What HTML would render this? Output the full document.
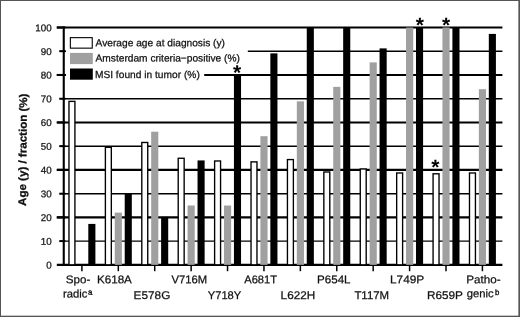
<!DOCTYPE html>
<html><head><meta charset="utf-8"><title>Figure</title>
<style>
html,body{margin:0;padding:0;background:#fff;}
body{width:520px;height:317px;overflow:hidden;position:relative;}
svg{position:absolute;left:0;top:0;display:block;}
text{font-family:"Liberation Sans",Arial,Helvetica,sans-serif;fill:#111;stroke:#111;stroke-width:0.25px;}
.tl{font-size:9.8px;text-anchor:end;}
.xl{font-size:11.2px;}
.sp{font-size:7.8px;stroke-width:0.35px;}
.lg{font-size:10.2px;}
.yt{font-size:11.1px;font-weight:bold;text-anchor:middle;stroke-width:0.3px;}
.st{font-size:21px;font-weight:bold;text-anchor:middle;stroke:none;fill:#000;}
</style></head><body>
<svg width="520" height="317" viewBox="0 0 520 317">
<rect x="0" y="0" width="520" height="317" fill="#fff"/>

<g stroke="#000" fill="none">
<line x1="56.8" y1="264.85" x2="502.4" y2="264.85" stroke-width="2.4"/>
<line x1="59.6" y1="241.12" x2="502.4" y2="241.12" stroke-width="1.45"/>
<line x1="56.8" y1="217.38" x2="502.4" y2="217.38" stroke-width="2.1"/>
<line x1="59.6" y1="193.65" x2="502.4" y2="193.65" stroke-width="1.45"/>
<line x1="56.8" y1="169.91" x2="502.4" y2="169.91" stroke-width="2.1"/>
<line x1="59.6" y1="146.18" x2="502.4" y2="146.18" stroke-width="1.45"/>
<line x1="56.8" y1="122.44" x2="502.4" y2="122.44" stroke-width="2.1"/>
<line x1="59.6" y1="98.71" x2="502.4" y2="98.71" stroke-width="1.45"/>
<line x1="56.8" y1="74.97" x2="502.4" y2="74.97" stroke-width="2.1"/>
<line x1="59.6" y1="51.24" x2="502.4" y2="51.24" stroke-width="1.45"/>
<line x1="56.8" y1="27.50" x2="502.4" y2="27.50" stroke-width="2.1"/>
</g>
<g stroke="#000">
<line x1="59.3" y1="241.12" x2="65.4" y2="241.12" stroke-width="1.9"/>
<line x1="56.8" y1="217.38" x2="65.4" y2="217.38" stroke-width="2.1"/>
<line x1="59.3" y1="193.65" x2="65.4" y2="193.65" stroke-width="1.9"/>
<line x1="56.8" y1="169.91" x2="65.4" y2="169.91" stroke-width="2.1"/>
<line x1="59.3" y1="146.18" x2="65.4" y2="146.18" stroke-width="1.9"/>
<line x1="56.8" y1="122.44" x2="65.4" y2="122.44" stroke-width="2.1"/>
<line x1="59.3" y1="98.71" x2="65.4" y2="98.71" stroke-width="1.9"/>
<line x1="56.8" y1="74.97" x2="65.4" y2="74.97" stroke-width="2.1"/>
<line x1="59.3" y1="51.24" x2="65.4" y2="51.24" stroke-width="1.9"/>
<line x1="56.8" y1="27.50" x2="65.4" y2="27.50" stroke-width="2.1"/>
</g>
<rect x="66" y="29" width="181.8" height="34" fill="#fff"/>
<rect x="66" y="62" width="138.2" height="34.8" fill="#fff"/>
<line x1="63.75" y1="26.50" x2="63.75" y2="266.00" stroke="#000" stroke-width="2.1"/>
<g stroke="#000" stroke-width="1.5">
<line x1="81.90" y1="264.85" x2="81.90" y2="271.2"/>
<line x1="118.31" y1="264.85" x2="118.31" y2="271.2"/>
<line x1="154.72" y1="264.85" x2="154.72" y2="271.2"/>
<line x1="191.13" y1="264.85" x2="191.13" y2="271.2"/>
<line x1="227.54" y1="264.85" x2="227.54" y2="271.2"/>
<line x1="263.95" y1="264.85" x2="263.95" y2="271.2"/>
<line x1="300.36" y1="264.85" x2="300.36" y2="271.2"/>
<line x1="336.77" y1="264.85" x2="336.77" y2="271.2"/>
<line x1="373.18" y1="264.85" x2="373.18" y2="271.2"/>
<line x1="409.59" y1="264.85" x2="409.59" y2="271.2"/>
<line x1="446.00" y1="264.85" x2="446.00" y2="271.2"/>
<line x1="482.41" y1="264.85" x2="482.41" y2="271.2"/>
</g>
<rect x="68.98" y="101.38" width="5.94" height="163.47" fill="#fff" stroke="#000" stroke-width="1.36"/>
<rect x="88.30" y="223.91" width="7.1" height="40.94" fill="#000"/>
<rect x="105.39" y="147.28" width="5.94" height="117.57" fill="#fff" stroke="#000" stroke-width="1.36"/>
<rect x="114.76" y="212.63" width="7.15" height="52.22" fill="#a0a0a0"/>
<rect x="124.71" y="193.88" width="7.1" height="70.97" fill="#000"/>
<rect x="141.80" y="142.48" width="5.94" height="122.37" fill="#fff" stroke="#000" stroke-width="1.36"/>
<rect x="151.17" y="131.70" width="7.15" height="133.15" fill="#a0a0a0"/>
<rect x="161.12" y="216.91" width="7.1" height="47.94" fill="#000"/>
<rect x="178.21" y="158.28" width="5.94" height="106.57" fill="#fff" stroke="#000" stroke-width="1.36"/>
<rect x="187.58" y="205.51" width="7.15" height="59.34" fill="#a0a0a0"/>
<rect x="197.53" y="160.42" width="7.1" height="104.43" fill="#000"/>
<rect x="214.62" y="160.98" width="5.94" height="103.87" fill="#fff" stroke="#000" stroke-width="1.36"/>
<rect x="223.99" y="205.51" width="7.15" height="59.34" fill="#a0a0a0"/>
<rect x="233.94" y="75.21" width="7.1" height="189.64" fill="#000"/>
<rect x="251.03" y="161.88" width="5.94" height="102.97" fill="#fff" stroke="#000" stroke-width="1.36"/>
<rect x="260.40" y="136.21" width="7.15" height="128.64" fill="#a0a0a0"/>
<rect x="270.35" y="53.37" width="7.1" height="211.48" fill="#000"/>
<rect x="287.44" y="159.58" width="5.94" height="105.27" fill="#fff" stroke="#000" stroke-width="1.36"/>
<rect x="296.81" y="101.32" width="7.15" height="163.53" fill="#a0a0a0"/>
<rect x="306.76" y="27.50" width="7.1" height="237.35" fill="#000"/>
<rect x="323.85" y="171.98" width="5.94" height="92.87" fill="#fff" stroke="#000" stroke-width="1.36"/>
<rect x="333.22" y="86.84" width="7.15" height="178.01" fill="#a0a0a0"/>
<rect x="343.17" y="27.50" width="7.1" height="237.35" fill="#000"/>
<rect x="360.26" y="168.98" width="5.94" height="95.87" fill="#fff" stroke="#000" stroke-width="1.36"/>
<rect x="369.63" y="62.39" width="7.15" height="202.46" fill="#a0a0a0"/>
<rect x="379.58" y="48.39" width="7.1" height="216.46" fill="#000"/>
<rect x="396.67" y="172.98" width="5.94" height="91.87" fill="#fff" stroke="#000" stroke-width="1.36"/>
<rect x="406.04" y="27.50" width="7.15" height="237.35" fill="#a0a0a0"/>
<rect x="415.99" y="27.50" width="7.1" height="237.35" fill="#000"/>
<rect x="433.08" y="173.78" width="5.94" height="91.07" fill="#fff" stroke="#000" stroke-width="1.36"/>
<rect x="442.45" y="27.50" width="7.15" height="237.35" fill="#a0a0a0"/>
<rect x="452.40" y="27.50" width="7.1" height="237.35" fill="#000"/>
<rect x="469.49" y="172.98" width="5.94" height="91.87" fill="#fff" stroke="#000" stroke-width="1.36"/>
<rect x="478.86" y="89.21" width="7.15" height="175.64" fill="#a0a0a0"/>
<rect x="488.81" y="33.91" width="7.1" height="230.94" fill="#000"/>
<rect x="70.35" y="37.65" width="21.9" height="10.5" fill="#fff" stroke="#000" stroke-width="1.1"/>
<rect x="70.0" y="52.9" width="22.8" height="11.2" fill="#a0a0a0"/>
<rect x="70.0" y="68.5" width="22.8" height="11.2" fill="#000"/>
<text class="lg" transform="translate(95.6,46.2) rotate(0.05)" textLength="129.4">Average age at diagnosis (y)</text>
<text class="lg" transform="translate(95.6,61.5) rotate(0.05)" textLength="144.3">Amsterdam criteria−positive (%)</text>
<text class="lg" transform="translate(94.9,78.0) rotate(0.05)" textLength="104.9">MSI found in tumor (%)</text>
<text class="tl" transform="translate(51.6,268.50) rotate(0.05)">0</text>
<text class="tl" transform="translate(51.6,244.77) rotate(0.05)">10</text>
<text class="tl" transform="translate(51.6,221.03) rotate(0.05)">20</text>
<text class="tl" transform="translate(51.6,197.30) rotate(0.05)">30</text>
<text class="tl" transform="translate(51.6,173.56) rotate(0.05)">40</text>
<text class="tl" transform="translate(51.6,149.83) rotate(0.05)">50</text>
<text class="tl" transform="translate(51.6,126.09) rotate(0.05)">60</text>
<text class="tl" transform="translate(51.6,102.36) rotate(0.05)">70</text>
<text class="tl" transform="translate(51.6,78.62) rotate(0.05)">80</text>
<text class="tl" transform="translate(51.6,54.89) rotate(0.05)">90</text>
<text class="tl" transform="translate(51.6,31.15) rotate(0.05)">100</text>
<text class="yt" transform="translate(26.5,149.75) rotate(-89.4)" textLength="112.4" lengthAdjust="spacingAndGlyphs">Age (y) / fraction (%)</text>
<text class="xl" transform="translate(65.75,283.25) rotate(0.05)" textLength="24.52" lengthAdjust="spacingAndGlyphs">Spo-</text>
<text class="xl" transform="translate(96.88,283.25) rotate(0.05)" textLength="35.01" lengthAdjust="spacingAndGlyphs">K618A</text>
<text class="xl" transform="translate(171.50,283.25) rotate(0.05)" textLength="35.64" lengthAdjust="spacingAndGlyphs">V716M</text>
<text class="xl" transform="translate(244.25,283.25) rotate(0.05)" textLength="32.75" lengthAdjust="spacingAndGlyphs">A681T</text>
<text class="xl" transform="translate(317.12,283.25) rotate(0.05)" textLength="33.41" lengthAdjust="spacingAndGlyphs">P654L</text>
<text class="xl" transform="translate(390.00,283.25) rotate(0.05)" textLength="34.18" lengthAdjust="spacingAndGlyphs">L749P</text>
<text class="xl" transform="translate(466.25,283.25) rotate(0.05)" textLength="34.29" lengthAdjust="spacingAndGlyphs">Patho-</text>
<text class="xl" transform="translate(63.00,297.6) rotate(0.05)" textLength="24.40" lengthAdjust="spacingAndGlyphs">radic</text>
<text class="sp" transform="translate(88.00,294.70) rotate(0.05)">a</text>
<text class="xl" transform="translate(133.62,299.1) rotate(0.05)" textLength="36.69" lengthAdjust="spacingAndGlyphs">E578G</text>
<text class="xl" transform="translate(207.75,299.1) rotate(0.05)" textLength="33.50" lengthAdjust="spacingAndGlyphs">Y718Y</text>
<text class="xl" transform="translate(280.62,299.1) rotate(0.05)" textLength="34.58" lengthAdjust="spacingAndGlyphs">L622H</text>
<text class="xl" transform="translate(354.38,299.1) rotate(0.05)" textLength="34.78" lengthAdjust="spacingAndGlyphs">T117M</text>
<text class="xl" transform="translate(427.00,299.1) rotate(0.05)" textLength="35.93" lengthAdjust="spacingAndGlyphs">R659P</text>
<text class="xl" transform="translate(466.75,297.2) rotate(0.05)" textLength="26.88" lengthAdjust="spacingAndGlyphs">genic</text>
<text class="sp" transform="translate(495.00,295.00) rotate(0.05)">b</text>
<text class="st" transform="translate(237.0,79.80) rotate(0.05)">*</text>
<text class="st" transform="translate(419.75,32.30) rotate(0.05)">*</text>
<text class="st" transform="translate(446.05,32.30) rotate(0.05)">*</text>
<text class="st" transform="translate(435.25,174.30) rotate(0.05)">*</text>
<rect x="0.5" y="0.5" width="518.6" height="315.9" fill="none" stroke="#555" stroke-width="1"/>
<line x1="519.3" y1="0" x2="519.3" y2="317" stroke="#555" stroke-width="1.4"/>
<line x1="0" y1="316.4" x2="520" y2="316.4" stroke="#555" stroke-width="1.2"/>
</svg></body></html>
